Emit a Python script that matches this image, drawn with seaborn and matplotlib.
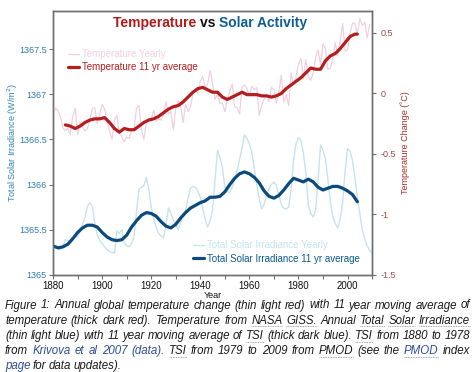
"""Temperature vs Solar Activity: 기온 변화와 태양 복사량(TSI) 비교 차트."""

import matplotlib
matplotlib.use("Agg")
import matplotlib.pyplot as plt
import seaborn as sns
from matplotlib.ticker import MultipleLocator

# ---- data ----
temp_years = list(range(1880, 2010))
temp_yearly = [
    -0.19, -0.12, -0.14, -0.20, -0.28, -0.31, -0.29, -0.34, -0.19, -0.12,
    -0.34, -0.24, -0.28, -0.31, -0.29, -0.22, -0.12, -0.12, -0.25, -0.17,
    -0.09, -0.13, -0.24, -0.31, -0.38, -0.22, -0.18, -0.33, -0.36, -0.40,
    -0.36, -0.37, -0.30, -0.29, -0.12, -0.10, -0.29, -0.38, -0.24, -0.21,
    -0.21, -0.14, -0.23, -0.21, -0.22, -0.18, -0.07, -0.17, -0.15, -0.30,
    -0.12, -0.06, -0.11, -0.24, -0.09, -0.15, -0.11, 0.00, 0.03, 0.00,
    0.10, 0.14, 0.05, 0.08, 0.19, 0.08, -0.05, -0.01, -0.08, -0.08,
    -0.15, -0.05, 0.02, 0.08, -0.11, -0.12, -0.17, 0.05, 0.07, 0.04,
    -0.02, 0.06, 0.03, 0.05, -0.18, -0.10, -0.05, -0.01, -0.07, 0.05,
    0.03, -0.08, 0.01, 0.15, -0.07, -0.01, -0.10, 0.17, 0.07, 0.14,
    0.24, 0.29, 0.12, 0.28, 0.14, 0.11, 0.17, 0.30, 0.36, 0.24,
    0.41, 0.37, 0.20, 0.21, 0.29, 0.42, 0.31, 0.43, 0.58, 0.35,
    0.36, 0.50, 0.58, 0.58, 0.49, 0.62, 0.56, 0.59, 0.46, 0.57,
]

temp_avg_years = [
    1885, 1887, 1889, 1891, 1893, 1895, 1897, 1899, 1901, 1903,
    1905, 1907, 1909, 1911, 1913, 1915, 1917, 1919, 1921, 1923,
    1925, 1927, 1929, 1931, 1933, 1935, 1937, 1939, 1941, 1943,
    1945, 1947, 1949, 1951, 1953, 1955, 1957, 1959, 1961, 1963,
    1965, 1967, 1969, 1971, 1973, 1975, 1977, 1979, 1981, 1983,
    1985, 1987, 1989, 1991, 1993, 1995, 1997, 1999, 2001, 2003, 2004,
]
temp_avg = [
    -0.26, -0.27, -0.29, -0.27, -0.24, -0.22, -0.21, -0.21, -0.20, -0.24,
    -0.29, -0.32, -0.29, -0.30, -0.30, -0.27, -0.24, -0.22, -0.21, -0.19,
    -0.16, -0.13, -0.11, -0.10, -0.07, -0.03, 0.01, 0.04, 0.05, 0.03,
    0.01, 0.01, -0.03, -0.05, -0.03, -0.01, 0.01, -0.01, -0.01, -0.01,
    -0.02, -0.02, -0.03, -0.02, 0.00, 0.04, 0.07, 0.10, 0.13, 0.17,
    0.21, 0.20, 0.20, 0.27, 0.31, 0.33, 0.37, 0.42, 0.47, 0.49, 0.49,
]

tsi_years = list(range(1880, 2011))
tsi_yearly = [
    1365.31, 1365.30, 1365.29, 1365.28, 1365.32, 1365.39, 1365.38, 1365.37, 1365.40, 1365.42,
    1365.42, 1365.48, 1365.56, 1365.64, 1365.76, 1365.80, 1365.76, 1365.58, 1365.44, 1365.38,
    1365.35, 1365.31, 1365.28, 1365.26, 1365.25, 1365.24, 1365.49, 1365.46, 1365.50, 1365.36,
    1365.32, 1365.31, 1365.35, 1365.42, 1365.70, 1365.95, 1365.97, 1365.99, 1366.08, 1365.95,
    1365.75, 1365.62, 1365.53, 1365.46, 1365.43, 1365.41, 1365.55, 1365.74, 1365.68, 1365.61,
    1365.55, 1365.50, 1365.58, 1365.66, 1365.72, 1365.85, 1365.96, 1365.98, 1365.97, 1365.93,
    1365.86, 1365.74, 1365.61, 1365.53, 1365.60, 1365.72, 1366.05, 1366.38, 1366.30, 1366.19,
    1365.97, 1365.93, 1365.91, 1365.97, 1366.05, 1366.15, 1366.28, 1366.40, 1366.55, 1366.51,
    1366.45, 1366.35, 1366.18, 1366.00, 1365.84, 1365.73, 1365.78, 1365.88, 1365.96, 1366.00,
    1366.03, 1365.99, 1365.88, 1365.78, 1365.74, 1365.73, 1365.75, 1365.95, 1366.27, 1366.45,
    1366.52, 1366.49, 1366.35, 1366.13, 1365.78, 1365.68, 1365.64, 1365.72, 1366.05, 1366.44,
    1366.38, 1366.28, 1366.05, 1365.80, 1365.64, 1365.57, 1365.52, 1365.62, 1365.80, 1366.15,
    1366.40, 1366.37, 1366.27, 1366.08, 1365.86, 1365.68, 1365.50, 1365.40, 1365.32, 1365.27,
    1365.24,
]

tsi_avg_years = list(range(1880, 2005, 2))
tsi_avg = [
    1365.32, 1365.30, 1365.31, 1365.34, 1365.40, 1365.47, 1365.52, 1365.55, 1365.55, 1365.53,
    1365.47, 1365.42, 1365.39, 1365.38, 1365.39, 1365.44, 1365.53, 1365.60, 1365.66, 1365.69,
    1365.68, 1365.65, 1365.59, 1365.54, 1365.52, 1365.56, 1365.63, 1365.69, 1365.74, 1365.77,
    1365.80, 1365.82, 1365.86, 1365.86, 1365.87, 1365.92, 1366.00, 1366.07, 1366.12, 1366.14,
    1366.12, 1366.08, 1366.02, 1365.93, 1365.87, 1365.85, 1365.88, 1365.94, 1366.01, 1366.07,
    1366.05, 1366.03, 1366.06, 1366.03, 1365.97, 1365.94, 1365.96, 1365.98, 1365.98, 1365.96,
    1365.93, 1365.89, 1365.81,
]

# 캡션 텍스트 (링크 단어는 파란색, 일부는 점선 밑줄)
BLK, LNK = "#1a1a1a", "#2b4f96"
caption_lines = [
    "Figure 1: Annual global temperature change (thin light red) with 11 year moving average of",
    "temperature (thick dark red). Temperature from NASA GISS. Annual Total Solar Irradiance",
    "(thin light blue) with 11 year moving average of TSI (thick dark blue). TSI from 1880 to 1978",
    "from Krivova et al 2007 (data). TSI from 1979 to 2009 from PMOD (see the PMOD index",
    "page for data updates).",
]
underlined = {"NASA", "GISS.", "Total", "Solar", "Irradiance", "TSI", "TSI.", "PMOD"}
link_words = {(3, 1), (3, 2), (3, 3), (3, 4), (3, 5), (3, 15), (4, 0)}

# ---- figure ----
sns.set_theme(style="white")
plt.rcParams["font.family"] = ["Liberation Sans", "DejaVu Sans"]

fig = plt.figure(figsize=(4.74, 3.72), dpi=100)
ax = fig.add_axes([0.112, 0.261, 0.673, 0.709])
ax2 = ax.twinx()

C_TY, C_TA = "#f2cfe0", "#b81d1d"
C_SY, C_SA = "#c6e3ee", "#0c4a7e"

sns.lineplot(x=tsi_years, y=tsi_yearly, ax=ax, color=C_SY, lw=1.0,
             label="Total Solar Irradiance Yearly")
sns.lineplot(x=tsi_avg_years, y=tsi_avg, ax=ax, color=C_SA, lw=2.3,
             label="Total Solar Irradiance 11 yr average")
sns.lineplot(x=temp_years, y=temp_yearly, ax=ax2, color=C_TY, lw=0.9,
             label="Temperature Yearly")
sns.lineplot(x=temp_avg_years, y=temp_avg, ax=ax2, color=C_TA, lw=2.3,
             label="Temperature 11 yr average")

ax.set_xlim(1880, 2010)
ax.set_ylim(1365, 1367.92)
ax2.set_ylim(-1.5, 0.68)
ax.xaxis.set_major_locator(MultipleLocator(20))
ax.xaxis.set_minor_locator(MultipleLocator(10))
ax.set_yticks([1365, 1365.5, 1366, 1366.5, 1367, 1367.5],
              ["1365", "1365.5", "1366", "1366.5", "1367", "1367.5"])
ax2.set_yticks([-1.5, -1, -0.5, 0, 0.5], ["-1.5", "-1", "-0.5", "0", "0.5"])

for a in (ax, ax2):
    for s in a.spines.values():
        s.set_color("#6e6e6e")
        s.set_linewidth(1.0)
ax.tick_params(axis="x", which="both", bottom=True, length=3, width=0.8,
               color="#6e6e6e", labelsize=7, pad=1.5, labelcolor="#111111")
ax.tick_params(axis="y", left=True, length=3, width=0.8, color="#6e6e6e",
               labelsize=6.5, labelcolor="#2f7fae", pad=1.5)
ax2.tick_params(axis="y", right=True, length=3, width=0.8, color="#6e6e6e",
                labelsize=6.5, labelcolor="#9c4b48", pad=3)

ax.set_xlabel("Year", fontsize=6.5, labelpad=0, color="#111111")
ax.set_ylabel("Total Solar Irradiance (W/m$^2$)", fontsize=6.5, color="#2f86b5")
ax.yaxis.set_label_coords(-0.105, 0.5)
ax2.set_ylabel("Temperature Change (\u02daC)", fontsize=6.5, color="#b02e2e")
ax2.yaxis.set_label_coords(1.088, 0.5)

ax.legend(loc="lower left", bbox_to_anchor=(0.42, 0.02), frameon=False, fontsize=7,
          handlelength=1.1, handletextpad=0.3, borderaxespad=0.2, labelspacing=0.35,
          labelcolor=[C_SY, "#0c5a8e"])
ax2.legend(loc="upper left", bbox_to_anchor=(0.02, 0.89), frameon=False, fontsize=7,
           handlelength=1.1, handletextpad=0.3, labelspacing=0.35,
           labelcolor=[C_TY, C_TA])

# ---- title in three colours ----
fig.canvas.draw()
rend = fig.canvas.get_renderer()
W = fig.bbox.width
parts = [("Temperature ", "#b01c1c"), ("vs ", "#111111"), ("Solar Activity", "#0f5e96")]
objs = [fig.text(0, 1 - 23 / 372, p, color=c, fontsize=10, fontweight="bold", va="center")
        for p, c in parts]
widths = [t.get_window_extent(rend).width for t in objs]
x = 210 - sum(widths) / 2
for t, w in zip(objs, widths):
    t.set_x(x / W)
    x += w

# ---- justified italic caption ----
line_y = [305.5, 320.8, 336, 351.3, 366.3]
x0, x1 = 5, 470
for li, (line, yy) in enumerate(zip(caption_lines, line_y)):
    words = line.split(" ")
    ts = []
    for wi, wd in enumerate(words):
        col = LNK if (li, wi) in link_words else BLK
        ts.append(fig.text(0, 1 - yy / 372, wd, fontsize=8.3, style="italic",
                           color=col, va="center"))
    ws = [t.get_window_extent(rend).width for t in ts]
    space = 2.4
    if li < len(caption_lines) - 1:
        space = (x1 - x0 - sum(ws)) / (len(ws) - 1)
    xx = x0
    for t, w, wd in zip(ts, ws, words):
        t.set_x(xx / W)
        if wd in underlined:
            fig.add_artist(plt.Line2D([xx / W, (xx + w) / W],
                                      [1 - (yy + 5.5) / 372] * 2, color="#888888",
                                      lw=0.6, ls=(0, (1, 1)), transform=fig.transFigure))
        xx += w + space

fig.savefig("out.png", dpi=100)
